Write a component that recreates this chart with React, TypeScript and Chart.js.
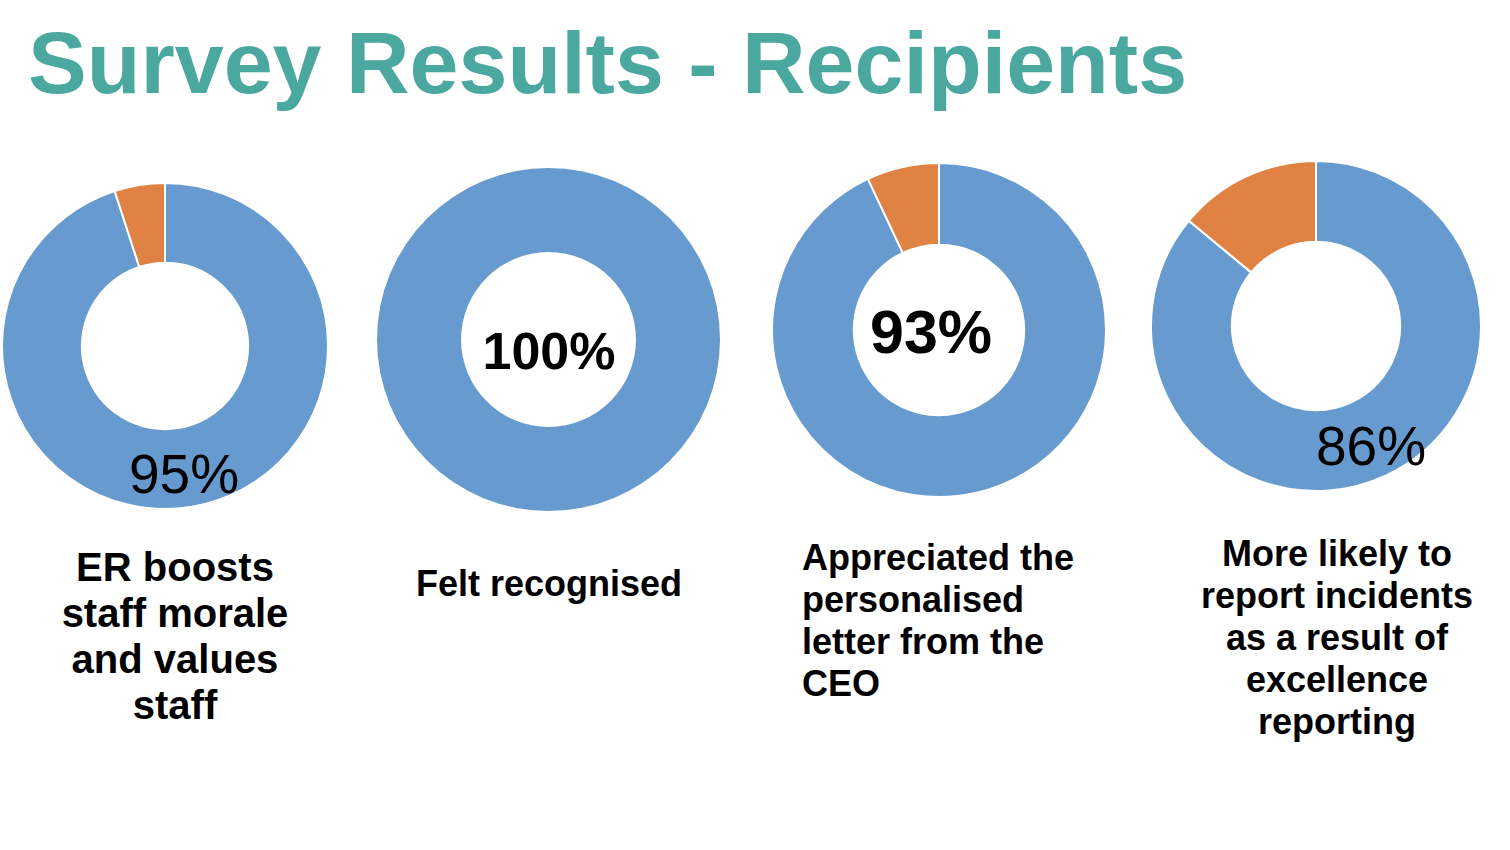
import React, { useEffect, useRef } from "react";
import { Chart, registerables } from "chart.js";

Chart.register(...registerables);

// ---- data ----
const categories = [
  "ER boosts staff morale and values staff",
  "Felt recognised",
  "Appreciated the personalised letter from the CEO",
  "More likely to report incidents as a result of excellence reporting",
];
const yesValues = [95, 100, 93, 86];
const otherValues = [5, 0, 7, 14];
const percentLabels = ["95%", "100%", "93%", "86%"];
const captionLines = [
  ["ER boosts", "staff morale", "and values", "staff"],
  ["Felt recognised"],
  ["Appreciated the", "personalised", "letter from the", "CEO"],
  ["More likely to", "report incidents", "as a result of", "excellence", "reporting"],
];

// ---- layout / style ----
const BLUE = "#679BCF";
const ORANGE = "#E08244";
const TEAL = "#4BA89E";
const FONT = "'Liberation Sans', Arial, Helvetica, sans-serif";

const donutGeom = [
  { cx: 165, cy: 345.5, r: 163 },
  { cx: 548.5, cy: 339.5, r: 171.5 },
  { cx: 939, cy: 330, r: 167 },
  { cx: 1316, cy: 325.5, r: 165 },
];

const pctStyle = [
  { cx: 184, top: 444, size: 55, weight: 400, lh: 60 },
  { cx: 549, top: 321, size: 52, weight: 700, lh: 60 },
  { cx: 931, top: 297, size: 61, weight: 700, lh: 70 },
  { cx: 1371, top: 416, size: 55, weight: 400, lh: 60 },
];

const captionStyle = [
  { x: 175, top: 544, size: 40, lh: 46, align: "center" as const },
  { x: 549, top: 563, size: 36, lh: 42, align: "center" as const },
  { x: 802, top: 536.5, size: 36, lh: 42, align: "left" as const },
  { x: 1337, top: 533, size: 36, lh: 42, align: "center" as const },
];

function Donut({ index }: { index: number }) {
  const ref = useRef<HTMLCanvasElement | null>(null);
  const g = donutGeom[index];
  const full = otherValues[index] === 0;
  const bw = full ? 0 : 2;
  const size = 2 * g.r + bw;

  useEffect(() => {
    if (!ref.current) return;
    const chart = new Chart(ref.current, {
      type: "doughnut",
      data: {
        labels: ["Yes", "Other"],
        datasets: [
          {
            data: [yesValues[index], otherValues[index]],
            backgroundColor: [BLUE, ORANGE],
            borderColor: "#ffffff",
            borderWidth: bw,
          },
        ],
      },
      options: {
        responsive: false,
        animation: false,
        cutout: "51%",
        layout: { padding: 0 },
        plugins: {
          legend: { display: false },
          tooltip: { enabled: false },
          title: { display: false },
        },
      },
    });
    return () => chart.destroy();
  }, [index]);

  return (
    <canvas
      ref={ref}
      width={size}
      height={size}
      aria-label={categories[index]}
      style={{
        position: "absolute",
        left: g.cx - size / 2,
        top: g.cy - size / 2,
        width: size,
        height: size,
      }}
    />
  );
}

export default function App() {
  return (
    <div
      style={{
        position: "fixed",
        left: 0,
        top: 0,
        width: 1510,
        height: 850,
        background: "#ffffff",
        overflow: "hidden",
        fontFamily: FONT,
      }}
    >
      <div
        style={{
          position: "absolute",
          left: 28,
          top: 12.5,
          fontSize: 88,
          lineHeight: "100px",
          fontWeight: 700,
          color: TEAL,
          whiteSpace: "nowrap",
        }}
      >
        Survey Results - Recipients
      </div>

      {donutGeom.map((_, i) => (
        <Donut key={i} index={i} />
      ))}

      {pctStyle.map((p, i) => (
        <div
          key={"p" + i}
          style={{
            position: "absolute",
            left: p.cx - 150,
            width: 300,
            top: p.top,
            textAlign: "center",
            fontSize: p.size,
            lineHeight: p.lh + "px",
            fontWeight: p.weight,
            color: "#000",
            whiteSpace: "nowrap",
          }}
        >
          {percentLabels[i]}
        </div>
      ))}

      {captionStyle.map((c, i) => (
        <div
          key={"c" + i}
          style={{
            position: "absolute",
            left: c.align === "center" ? c.x - 200 : c.x,
            width: 400,
            top: c.top,
            textAlign: c.align,
            fontSize: c.size,
            lineHeight: c.lh + "px",
            fontWeight: 700,
            color: "#000",
            whiteSpace: "nowrap",
          }}
        >
          {captionLines[i].map((line, k) => (
            <div key={k}>{line}</div>
          ))}
        </div>
      ))}
    </div>
  );
}
